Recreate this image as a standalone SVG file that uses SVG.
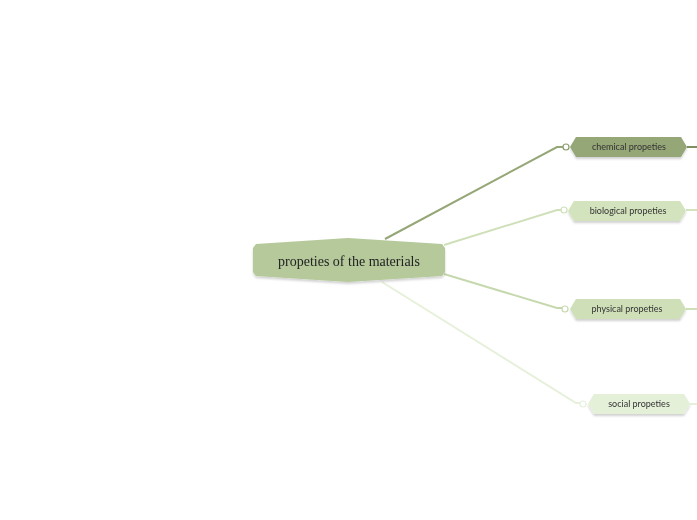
<svg xmlns="http://www.w3.org/2000/svg" width="697" height="520" viewBox="0 0 697 520">
<defs><filter id="sh" x="-10%" y="-20%" width="120%" height="150%"><feDropShadow dx="0" dy="2" stdDeviation="1.2" flood-color="#000" flood-opacity="0.18"/></filter></defs>
<style>
.t{font-family:"Lato","Liberation Sans",sans-serif;font-size:9px;fill:#333;text-anchor:middle}
.c{fill:none;stroke-width:2}
.d{fill:#fff;stroke-width:1.2}
</style>
<rect width="697" height="520" fill="#fff"/>
<g id="connectors">
<path class="c" d="M385 239 L557 147 L566 147" stroke="#95a677"/>
<path class="c" d="M444 245 L557 210 L564 210" stroke="#cfe0b9"/>
<path class="c" d="M444 274 L557 308 L565 308" stroke="#c6d9ae"/>
<path class="c" d="M382 282 L576 403 L583 403" stroke="#e6f0da" stroke-width="1.5"/>
<path class="c" d="M687 147 L697 147" stroke="#7d9060"/>
<path class="c" d="M686 210 L697 210" stroke="#d3e3bd" stroke-width="1"/>
<path class="c" d="M686 309 L697 309" stroke="#cfe0b9" stroke-width="1"/>
<path class="c" d="M690 404 L697 404" stroke="#e5f0d9" stroke-width="1"/>
<circle class="d" cx="566" cy="147" r="3" stroke="#8a9b6c"/>
<circle class="d" cx="564" cy="210" r="3" stroke="#cfe0b9"/>
<circle class="d" cx="565" cy="309" r="3" stroke="#c6d9ae"/>
<circle class="d" cx="583" cy="404" r="3" stroke="#e6f0da"/>
</g>
<g id="root" filter="url(#sh)">
<path d="M256 244 L348 238 L442 244 L445 248 L445 272 L442 276 L348 282 L256 276 L253 272 L253 248 Z" fill="#b5c99b"/>
<text x="349" y="266" font-family="Liberation Serif,serif" font-size="14" fill="#222" text-anchor="middle">propeties of the materials</text>
</g>
<g id="chemical" filter="url(#sh)">
<path d="M576 137 L681 137 L687 147 L681 157 L576 157 L570 147 Z" fill="#95a677"/>
<text class="t" x="629" y="150">chemical propeties</text>
</g>
<g id="biological" filter="url(#sh)">
<path d="M574 201 L680 201 L686 211 L680 221 L574 221 L568 211 Z" fill="#d3e3bd"/>
<text class="t" x="628" y="214">biological propeties</text>
</g>
<g id="physical" filter="url(#sh)">
<path d="M576 299 L680 299 L686 309 L680 319 L576 319 L570 309 Z" fill="#cfe0b9"/>
<text class="t" x="627" y="312">physical propeties</text>
</g>
<g id="social" filter="url(#sh)">
<path d="M594 394 L684 394 L690 404 L684 414 L594 414 L588 404 Z" fill="#e5f0d9"/>
<text class="t" x="639" y="407">social propeties</text>
</g>
</svg>
